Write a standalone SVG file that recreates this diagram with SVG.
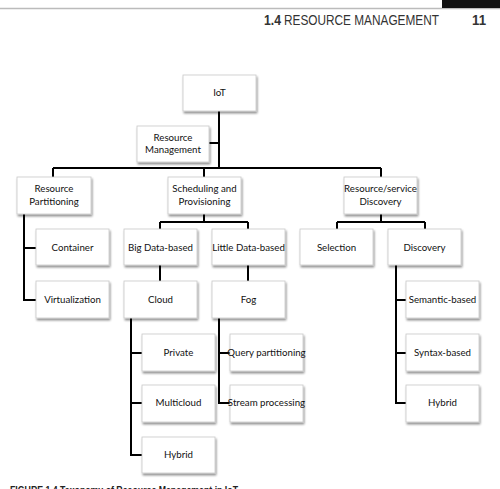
<svg xmlns="http://www.w3.org/2000/svg" width="500" height="489" viewBox="0 0 500 489">
<defs>
<filter id="sh" x="-10%" y="-10%" width="130%" height="140%">
<feGaussianBlur in="SourceAlpha" stdDeviation="1"/>
<feOffset dx="1" dy="1.5" result="b"/>
<feComponentTransfer><feFuncA type="linear" slope="0.45"/></feComponentTransfer>
<feMerge><feMergeNode/><feMergeNode in="SourceGraphic"/></feMerge>
</filter>
</defs>
<style>
.box{fill:#fff;stroke:#c8c8c8;stroke-width:0.8;filter:url(#sh)}
.t{font-family:Lato,"Open Sans","Liberation Sans",sans-serif;font-size:9.7px;fill:#111;text-anchor:middle}
.c{fill:none;stroke:#000;stroke-width:2}
.hd{font-family:"Liberation Sans",sans-serif;font-size:14px;fill:#333}
</style>
<rect x="0" y="0" width="500" height="489" fill="#fff"/>
<line x1="0" y1="8.5" x2="500" y2="8.5" stroke="#bbb" stroke-width="1.5"/>
<rect x="442" y="0" width="58" height="8" fill="#111"/>
<text class="hd" x="264" y="25" font-weight="bold" textLength="17" lengthAdjust="spacingAndGlyphs">1.4</text>
<text class="hd" x="284" y="25" textLength="155" lengthAdjust="spacingAndGlyphs">RESOURCE MANAGEMENT</text>
<text class="hd" x="472" y="25" font-weight="bold" textLength="14" lengthAdjust="spacingAndGlyphs">11</text>
<text x="10" y="493.5" font-family="Liberation Sans,sans-serif" font-size="11" font-weight="bold" fill="#222" textLength="228" lengthAdjust="spacingAndGlyphs">FIGURE 1.4  Taxonomy of Resource Management in IoT</text>

<g id="connectors">
<path class="c" d="M219 111V168M209 143H219M53 168H381M53 168V177M204 168V177M381 168V177"/>
<path class="c" d="M24 214V300H36M24 248H36"/>
<path class="c" d="M204 214V222M160 222H248M160 222V229M248 222V229M160 265V281M248 265V281"/>
<path class="c" d="M381 214V222M337 222H425M337 222V229M425 222V229"/>
<path class="c" d="M131 318V455H142M131 353H142M131 403H142"/>
<path class="c" d="M219 318V403H230M219 353H230"/>
<path class="c" d="M396 265V403H406M396 300H406M396 353H406"/>
</g>

<g id="iot"><rect class="box" x="183" y="75" width="73" height="36"/><text class="t" x="219.5" y="96">IoT</text></g>
<g id="resource-management"><rect class="box" x="137" y="126" width="72" height="36"/><text class="t" x="173" y="141">Resource</text><text class="t" x="173" y="153">Management</text></g>
<g id="resource-partitioning"><rect class="box" x="17" y="177" width="74" height="37"/><text class="t" x="54" y="192">Resource</text><text class="t" x="54" y="205">Partitioning</text></g>
<g id="scheduling"><rect class="box" x="168" y="177" width="73" height="37"/><text class="t" x="204.5" y="192">Scheduling and</text><text class="t" x="204.5" y="205">Provisioning</text></g>
<g id="discovery-root"><rect class="box" x="344" y="177" width="73" height="37"/><text class="t" x="380.5" y="192">Resource/service</text><text class="t" x="380.5" y="205">Discovery</text></g>
<g id="container"><rect class="box" x="36" y="229" width="73" height="36"/><text class="t" x="72.5" y="251">Container</text></g>
<g id="big-data"><rect class="box" x="124" y="229" width="73" height="36"/><text class="t" x="160.5" y="251">Big Data-based</text></g>
<g id="little-data"><rect class="box" x="212" y="229" width="73" height="36"/><text class="t" x="248.5" y="251">Little Data-based</text></g>
<g id="selection"><rect class="box" x="300" y="229" width="73" height="36"/><text class="t" x="336.5" y="251">Selection</text></g>
<g id="discovery"><rect class="box" x="388" y="229" width="73" height="36"/><text class="t" x="424.5" y="251">Discovery</text></g>
<g id="virtualization"><rect class="box" x="36" y="281" width="73" height="37"/><text class="t" x="72.5" y="303">Virtualization</text></g>
<g id="cloud"><rect class="box" x="124" y="281" width="73" height="37"/><text class="t" x="160.5" y="303">Cloud</text></g>
<g id="fog"><rect class="box" x="212" y="281" width="73" height="37"/><text class="t" x="248.5" y="303">Fog</text></g>
<g id="semantic"><rect class="box" x="406" y="281" width="73" height="37"/><text class="t" x="442.5" y="303">Semantic-based</text></g>
<g id="private"><rect class="box" x="142" y="334" width="73" height="37"/><text class="t" x="178.5" y="356">Private</text></g>
<g id="query"><rect class="box" x="230" y="334" width="73" height="37"/><text class="t" x="266.5" y="356">Query partitioning</text></g>
<g id="syntax"><rect class="box" x="406" y="334" width="73" height="37"/><text class="t" x="442.5" y="356">Syntax-based</text></g>
<g id="multicloud"><rect class="box" x="142" y="385" width="73" height="37"/><text class="t" x="178.5" y="406">Multicloud</text></g>
<g id="stream"><rect class="box" x="230" y="385" width="73" height="37"/><text class="t" x="266.5" y="406">Stream processing</text></g>
<g id="hybrid-right"><rect class="box" x="406" y="385" width="73" height="37"/><text class="t" x="442.5" y="406">Hybrid</text></g>
<g id="hybrid-left"><rect class="box" x="142" y="437" width="73" height="36"/><text class="t" x="178.5" y="458">Hybrid</text></g>
</svg>
